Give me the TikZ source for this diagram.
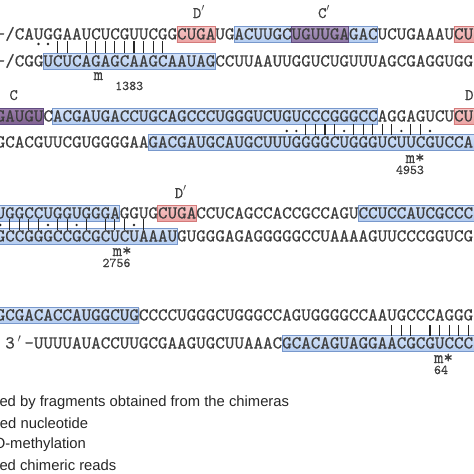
\documentclass[tikz,border=0pt]{standalone}
\usepackage{fontspec}
\setsansfont{Liberation Sans}
\newfontfamily\seqfont{lmmono10-regular.otf}[FakeBold=0.4]
\usetikzlibrary{shadows}

\definecolor{seqgray}{RGB}{62,62,62}
\definecolor{blueup}{RGB}{214,228,249}
\definecolor{bluedown}{RGB}{180,204,240}
\definecolor{boxblueline}{RGB}{120,152,204}
\definecolor{redup}{RGB}{247,200,200}
\definecolor{reddown}{RGB}{236,164,164}
\definecolor{boxredline}{RGB}{212,122,122}
\definecolor{purpleup}{RGB}{172,152,192}
\definecolor{purpledown}{RGB}{142,120,166}
\definecolor{boxpurpleline}{RGB}{96,76,128}
\definecolor{plumup}{RGB}{156,126,172}
\definecolor{plumdown}{RGB}{128,98,146}

\tikzset{
	seq/.style={font=\seqfont\fontsize{18.19}{20}\selectfont, text=seqgray, inner sep=0pt, anchor=base west},
	lbl/.style={font=\seqfont\fontsize{16}{18}\selectfont, text=seqgray, inner sep=0pt, anchor=base},
	mlbl/.style={font=\seqfont\fontsize{18}{20}\selectfont, text=seqgray, inner sep=0pt, anchor=base west},
	num/.style={font=\seqfont\fontsize{13.3}{15}\selectfont, text=seqgray, inner sep=0pt, anchor=base},
	legend/.style={font=\sffamily\fontsize{14.8}{17}\selectfont, text=black!85, inner sep=0pt, anchor=base west},
	shade/.style={drop shadow={opacity=0.25, shadow xshift=0.8pt, shadow yshift=-1.2pt}},
	bluebox/.style={shade, top color=blueup, bottom color=bluedown, draw=boxblueline, line width=0.8pt},
	redbox/.style={shade, top color=redup, bottom color=reddown, draw=boxredline, line width=0.8pt},
	purplebox/.style={top color=purpleup, bottom color=purpledown, draw=boxpurpleline, line width=0.8pt},
	plumbox/.style={shade, top color=plumup, bottom color=plumdown, draw=boxpurpleline, line width=0.8pt},
	pairbar/.style={line width=1.1pt, black!85},
	pairdot/.style={fill=black!85}
}

\begin{document}
\begin{tikzpicture}[x=9.55pt, y=-1pt]
	\useasboundingbox (0,0) rectangle (49.634,474);
	\begin{scope}[xshift=-4.5pt]

	% colour boxes behind the sequences (x in letters, y in pixels)
	\draw[redbox] (19,26) rectangle (23,42);
	\draw[bluebox] (25,26) rectangle (40,42);
	\draw[purplebox] (31,26) rectangle (37,42);
	\draw[redbox] (48,26) rectangle (51,42);
	\draw[bluebox] (5,53) rectangle (23,69);

	\draw[plumbox] (-1,108) rectangle (5,124);
	\draw[bluebox] (6,108) rectangle (40,124);
	\draw[redbox] (48,108) rectangle (51,124);
	\draw[bluebox] (16,134) rectangle (51,150);

	\draw[bluebox] (-1,205) rectangle (13,221);
	\draw[redbox] (17,205) rectangle (21,221);
	\draw[bluebox] (38,205) rectangle (51,221);
	\draw[bluebox] (-1,228) rectangle (19,244);

	\draw[bluebox] (-1,307) rectangle (15,323);
	\draw[bluebox] (30,335) rectangle (51,351);

	% the sequences
	\node[seq] (r1) at (0,39.5) {-/CAUGGAAUCUCGUUCGGCUGAUGACUUGCUGUUGAGACUCUGAAAUCU};
	\node[seq] (r2) at (0,66.5) {-/CGGUCUCAGAGCAAGCAAUAGCCUUAAUUGGUCUGUUUAGCGAGGUGG};
	\node[seq] (r3) at (0,121.5) {GAUGUCACGAUGACCUGCAGCCCUGGGUCUGUCCCGGGCCAGGAGUCUCU};
	\node[seq] (r4) at (0,147.5) {GCACGUUCGUGGGGAAGACGAUGCAUGCUUUGGGGCUGGGUCUUCGUCCA-};
	\node[seq] (r5) at (0,218.5) {UGGCCUGGUGGGAGGUGCUGACCUCAGCCACCGCCAGUCCUCCAUCGCCC};
	\node[seq] (r6) at (0,241.5) {GCCGGGCCGCGCUCUAAAUGUGGGAGAGGGGGCCUAAAAGUUCCCGGUCG};
	\node[seq] (r7) at (0,320.5) {GCGACACCAUGGCUGCCCCUGGGCUGGGCCAGUGGGGCCAAUGCCCAGGG};
	\node[seq] (r8) at (1,348.5) {3\makebox[0.525em]{$'$}-UUUUAUACCUUGCGAAGUGCUUAAACGCACAGUAGGAACGCGUCCC};

	% box labels
	\node[lbl] (d1) at (21.3,18) {D$'$};
	\node[lbl] (c1) at (34.4,18) {C$'$};
	\node[lbl] (c2) at (1.9,100) {C};
	\node[lbl] (d2) at (49.8,100) {D$'$};
	\node[lbl] (d3) at (19.4,198) {D$'$};

	% base pairs
	\foreach \i in {6,7,9,10,...,17} \draw[pairbar] (\i+0.5,41) -- (\i+0.5,53);
	\foreach \i in {4,5} \fill[pairdot] (\i+0.5,44) circle (1.3pt);
	\foreach \i in {32,33,34,35,37,38,39,40,41,43,44} \draw[pairbar] (\i+0.5,124) -- (\i+0.5,135);
	\foreach \i in {30,31,36,42,45} \fill[pairdot] (\i+0.5,131) circle (1.3pt);
	\foreach \i in {1,2,3,4,6,7,9,11,12,13,15} \draw[pairbar] (\i+0.5,219) -- (\i+0.5,230);
	\foreach \i in {0,5,8,14} \fill[pairdot] (\i+0.5,225) circle (1.3pt);
	\foreach \i in {41,42,43,45,46,47,48,49} \draw[pairbar] (\i+0.5,325) -- (\i+0.5,336);

	% methylated sites
	\node[mlbl] (m1) at (10.26,80) {m};
	\node[num] (n1) at (14.0,90) {1383};
	\node[mlbl] (m2) at (42.93,163) {m*};
	\node[num] (n2) at (43.4,174) {4953};
	\node[mlbl] (m3) at (12.25,256) {m*};
	\node[num] (n3) at (12.67,267) {2756};
	\node[mlbl] (m4) at (45.9,363) {m*};
	\node[num] (n4) at (46.65,374) {64};

	% legend
	\node[legend] (l1) at (0.4,406) {ed by fragments obtained from the chimeras};
	\node[legend] (l2) at (0.45,428) {ed nucleotide};
	\node[legend] (l3) at (-0.2,448) {O-methylation};
	\node[legend] (l4) at (0.4,470) {ed chimeric reads};
	\end{scope}
\end{tikzpicture}
\end{document}
